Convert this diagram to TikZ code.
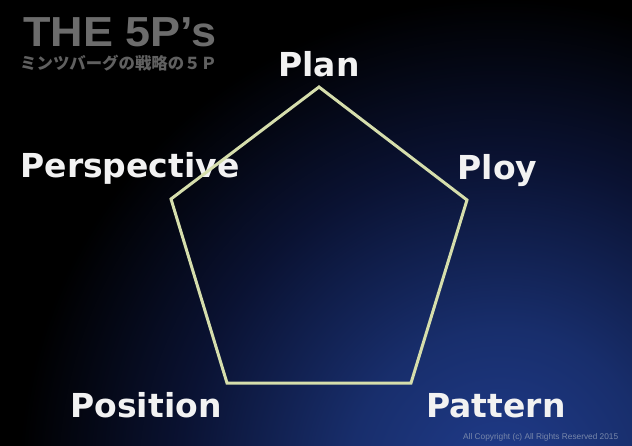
\documentclass[tikz,border=0pt]{standalone}
\usepackage{fontspec}
\newfontfamily\lblfont{DejaVu Sans}
\newfontfamily\titlefont{Liberation Sans}
\newfontfamily\jpfont{Noto Sans CJK JP}
\definecolor{glowA}{RGB}{32,60,140}
\definecolor{glowB}{RGB}{24,46,108}
\definecolor{glowC}{RGB}{10,18,50}
\definecolor{lineC}{RGB}{214,222,172}
\definecolor{titleC}{RGB}{108,108,108}
\definecolor{subC}{RGB}{96,96,96}
\definecolor{lblC}{RGB}{242,242,242}
\definecolor{copyC}{RGB}{120,135,170}
\pgfdeclareradialshading{glow}{\pgfpoint{0bp}{0bp}}{color(0bp)=(glowA); color(150bp)=(glowB); color(320bp)=(glowC); color(480bp)=(black); color(720bp)=(black)}
\tikzset{
  lbl/.style={font=\lblfont\bfseries\fontsize{33}{36}\selectfont, text=lblC, inner sep=0pt, anchor=base},
  penta/.style={draw=lineC, line width=3pt, line join=miter},
}
\begin{document}
\begin{tikzpicture}[x=1pt,y=-1pt]
\fill[black] (0,0) rectangle (632,446);
\useasboundingbox (0,0) rectangle (632,446);
\begin{scope}
\clip (0,0) rectangle (632,446);
\node[inner sep=0pt, outer sep=0pt] (bg) at (500,480) {\pgfuseshading{glow}};
\end{scope}
% title
\node[anchor=base west, inner sep=0pt, text=titleC, font=\titlefont\bfseries\fontsize{42}{44}\selectfont] (title) at (23,47) {\scalebox{1.07}[1]{THE 5P’s}};
\node[anchor=base west, inner sep=0pt, text=subC, font=\jpfont\bfseries\fontsize{16.4}{18}\selectfont] (sub) at (20,70) {ミンツバーグの戦略の５Ｐ};
% labels
\node[lbl] (plan) at (319,77) {Plan};
\node[lbl] (ploy) at (497.5,180) {Ploy};
\node[lbl] (persp) at (130,178) {Perspective};
\node[lbl] (posi) at (146,417) {Position};
\node[lbl] (patt) at (496,417) {Pattern};
% pentagon
\coordinate (vT) at (319,87);
\coordinate (vR) at (467,200);
\coordinate (vBR) at (411,383);
\coordinate (vBL) at (227,383);
\coordinate (vL) at (171,199);
\draw[penta] (vT) -- (vR) -- (vBR) -- (vBL) -- (vL) -- cycle;
% copyright
\node[anchor=base west, inner sep=0pt, text=copyC, font=\titlefont\fontsize{5}{6}\selectfont] (copy) at (463,439) {\resizebox{155pt}{!}{All Copyright (c) All Rights Reserved 2015}};
\end{tikzpicture}
\end{document}
